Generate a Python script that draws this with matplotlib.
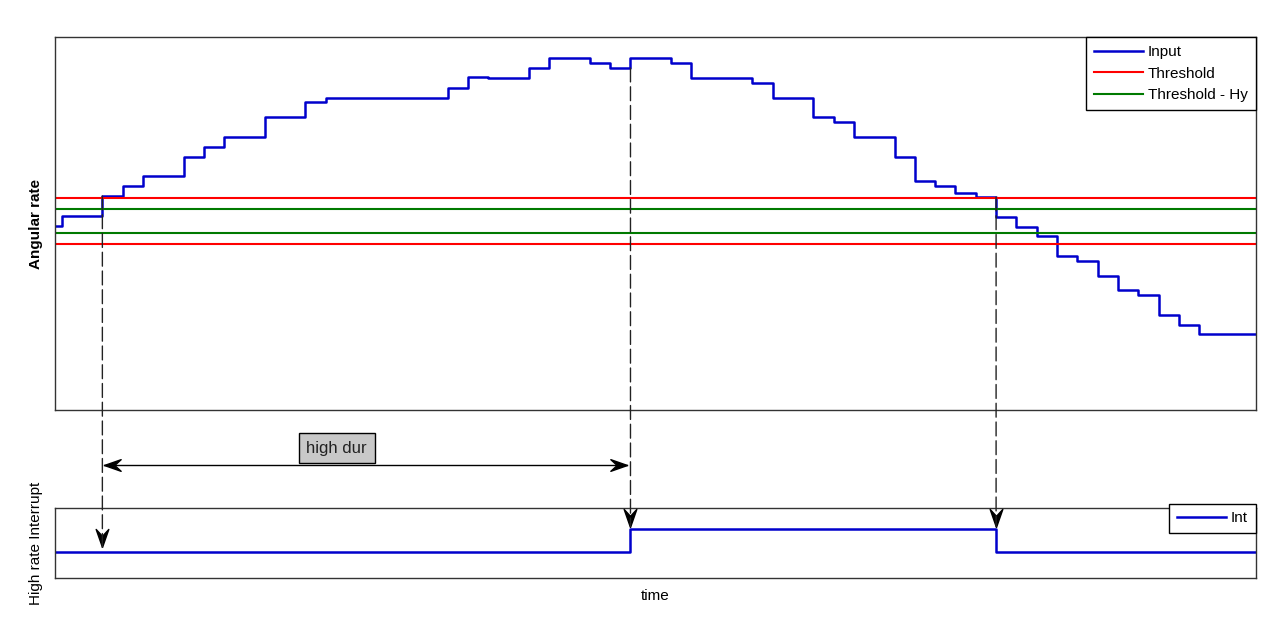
import matplotlib.pyplot as plt
from matplotlib.path import Path
from matplotlib.patches import ConnectionPatch
from matplotlib.transforms import blended_transform_factory

plt.rcParams['font.family'] = ['Liberation Sans', 'DejaVu Sans']

# data
#-----------------------------------------------------------------------------------------------------------------------------
# input signal: sample times where the level changes and the level held after it
t_edges = [-0.33, 0, 2, 3, 4, 6, 7, 8, 10, 12, 13, 19, 20, 21, 23, 24, 26, 27, 28, 30, 31, 34, 35, 37, 38, 39,
           41, 42, 43, 44, 45, 46, 47, 48, 49, 50, 51, 52, 53, 54, 55, 56]
input_level = [-5, 5, 25, 35, 45, 64, 74, 84, 104, 119, 123, 133, 144, 143, 153, 163, 158, 153, 163, 158, 143, 138,
               123, 104, 99, 84, 64, 40, 35, 28, 24, 4, -6, -15, -35, -40, -55, -69, -74, -94, -104, -113]
t_end = 58.78

threshold = 23
hysteresis = 11

# interrupt output
int_edges = [-0.33, 28, 46]
int_level = [0, 1, 0]

# events: time, level on the input where the dashed line starts, level on the interrupt where the arrow ends
event_t = [2, 28, 46]
event_from = [25, 153, 24]
event_to = [0.2, 1.1, 1.1]

# high duration arrow
dur_start = 2.08
dur_end = 27.85
#-----------------------------------------------------------------------------------------------------------------------------

blue = '#0000cc'
red = '#ff0000'
green = '#007a00'

fig = plt.figure(figsize=(12.8, 6.19), dpi=100)
ax1 = fig.add_axes([0.043, 0.3376, 0.938, 0.6026])
ax2 = fig.add_axes([0.043, 0.0662, 0.938, 0.1131])

# top plot
ax1.step(t_edges + [t_end], input_level + [input_level[-1]], where='post', color=blue, lw=1.8, label='Input')
ax1.plot([t_edges[0], t_end], [threshold, threshold], color=red, lw=1.5, label='Threshold')
ax1.plot([t_edges[0], t_end], [threshold - hysteresis, threshold - hysteresis], color=green, lw=1.5, label='Threshold - Hy')
ax1.plot([t_edges[0], t_end], [-threshold + hysteresis, -threshold + hysteresis], color=green, lw=1.5)
ax1.plot([t_edges[0], t_end], [-threshold, -threshold], color=red, lw=1.5)
ax1.set_xlim(t_edges[0], t_end)
ax1.set_ylim(-189, 184)
ax1.set_ylabel('Angular rate', fontweight='bold', fontsize=11, labelpad=9)
ax1.legend(loc='upper right', borderaxespad=0, fancybox=False, edgecolor='black', framealpha=1,
           fontsize=11, handlelength=3.2, handletextpad=0.35, labelspacing=0.5, borderpad=0.52)

# bottom plot
ax2.step(int_edges + [t_end], int_level + [int_level[-1]], where='post', color=blue, lw=1.8, label='Int')
ax2.set_xlim(t_edges[0], t_end)
ax2.set_ylim(-1.13, 1.91)
ax2.set_ylabel('High rate Interrupt', fontsize=11, labelpad=9)
ax2.set_xlabel('time', fontsize=11, labelpad=8)
ax2.legend(loc='upper right', bbox_to_anchor=(1, 1.06), borderaxespad=0, fancybox=False, edgecolor='black',
           framealpha=1, fontsize=11, handlelength=3.2, handletextpad=0.35, borderpad=0.5)

for ax in [ax1, ax2]:
    ax.set_xticks([])
    ax.set_yticks([])
    for s in ax.spines.values():
        s.set_color('#333333')
        s.set_linewidth(1)

# notched arrow heads, tip at (0,0)
head_down = Path([(0, 0), (-0.35, 1), (0, 0.62), (0.35, 1), (0, 0)])
head_left = Path([(0, 0), (1, 0.35), (0.62, 0), (1, -0.35), (0, 0)])
head_right = Path([(0, 0), (-1, 0.35), (-0.62, 0), (-1, -0.35), (0, 0)])

# dashed event lines
for i in range(len(event_t)):
    con = ConnectionPatch(xyA=(event_t[i], event_from[i]), coordsA=ax1.transData,
                          xyB=(event_t[i], event_to[i]), coordsB=ax2.transData,
                          color='#222222', lw=1, linestyle=(0, (10, 3.5)), zorder=5)
    fig.add_artist(con)
    ax2.plot(event_t[i], event_to[i], marker=head_down, markersize=26, color='black', clip_on=False, zorder=6)

# high dur arrow between the plots
trans = blended_transform_factory(ax1.transData, ax1.transAxes)
y_arrow = -0.1475
ax1.plot([dur_start, dur_end], [y_arrow, y_arrow], color='black', lw=1, transform=trans, clip_on=False)
ax1.plot(dur_start, y_arrow, marker=head_left, markersize=24, color='black', transform=trans, clip_on=False)
ax1.plot(dur_end, y_arrow, marker=head_right, markersize=24, color='black', transform=trans, clip_on=False)
ax1.text(13.54, -0.102, 'high dur', fontsize=12, ha='center', va='center', transform=trans, color='#222222',
         bbox=dict(boxstyle='square,pad=0.45', facecolor='#c8c8c8', edgecolor='black', lw=1))

fig.savefig('out.png', dpi=100)
